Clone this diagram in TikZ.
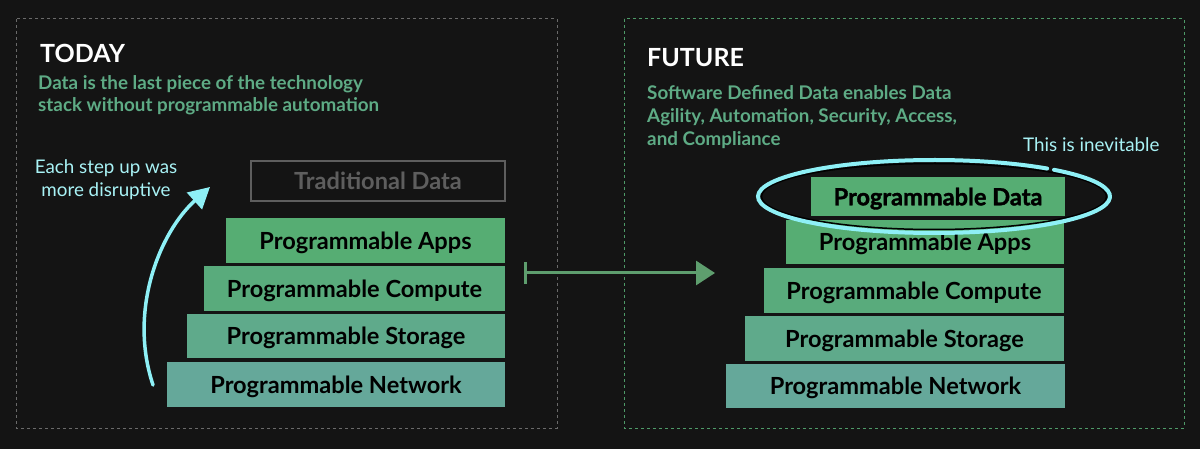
\documentclass[tikz,border=0pt]{standalone}
\usepackage{fontspec}
\setmainfont{Lato}
\newfontfamily\latoheavy{Lato}[BoldFeatures={FakeBold=1.6}]
\usetikzlibrary{arrows.meta}
\definecolor{bgc}{HTML}{141414}
\definecolor{subg}{HTML}{5EAB85}
\definecolor{cyanc}{HTML}{8EF0F6}
\definecolor{cyant}{HTML}{A8F2F5}
\definecolor{grayc}{HTML}{5E5E5E}
\definecolor{dashg}{HTML}{6A6A6A}
\definecolor{dashgr}{HTML}{4E9A68}
\definecolor{arrg}{HTML}{5E9E6E}
\definecolor{capps}{HTML}{56AD73}
\definecolor{ccomp}{HTML}{59AB7C}
\definecolor{cstor}{HTML}{5FAA8B}
\definecolor{cnet}{HTML}{65A89A}
\tikzset{
  stackbox/.style={anchor=north west, inner sep=0pt, outer sep=0pt, text=black, text depth=0pt,
    font=\fontsize{23.6}{26}\selectfont\bfseries},
  titletxt/.style={anchor=base west, inner sep=0pt, text=white, font=\fontsize{25}{28}\selectfont\bfseries},
  subtxt/.style={anchor=base west, inner sep=0pt, text=subg, font=\fontsize{18.8}{20}\selectfont\bfseries},
  notetxt/.style={inner sep=0pt, text=cyant, font=\fontsize{18.8}{20}\selectfont},
  panel/.style={line width=1pt, dash pattern=on 3pt off 3pt},
}
\begin{document}
\begin{tikzpicture}[x=1pt,y=-1pt]
\useasboundingbox[fill=bgc] (0,0) rectangle (1200,449);
% panels
\draw[panel, draw=dashg] (16,19) rectangle (557,428);
\draw[panel, draw=dashgr] (624,19) rectangle (1184,428);
% titles
\node[titletxt] (today) at (40,63) {TODAY};
\node[subtxt] (s1a) at (38,90) {Data is the last piece of the technology};
\node[subtxt] (s1b) at (38,112) {stack without programmable automation};
\node[titletxt] (future) at (647,67) {FUTURE};
\node[subtxt] (s2a) at (647,100) {Software Defined Data enables Data};
\node[subtxt] (s2b) at (647,123) {Agility, Automation, Security, Access,};
\node[subtxt] (s2c) at (647,145.5) {and Compliance};
% notes
\node[notetxt, anchor=base] (n1) at (106,174) {Each step up was};
\node[notetxt, anchor=base] (n2) at (106,197) {more disruptive};
\node[notetxt, anchor=base west] (n3) at (1023,152) {This is inevitable};
% left stack
\node[stackbox, draw=grayc, line width=1.5pt, text=grayc, minimum width=254pt, minimum height=40pt] (ltrad) at (251,161) {Traditional Data};
\node[stackbox, fill=capps, minimum width=279pt, minimum height=45pt] (lapps) at (226,218) {Programmable Apps};
\node[stackbox, fill=ccomp, minimum width=301pt, minimum height=45pt] (lcomp) at (204,266) {Programmable Compute};
\node[stackbox, fill=cstor, minimum width=318pt, minimum height=44pt] (lstor) at (187,314) {Programmable Storage};
\node[stackbox, fill=cnet, minimum width=338pt, minimum height=45pt] (lnet) at (167,362) {Programmable Network};
% right stack
\node[stackbox, fill=capps, minimum width=254pt, minimum height=39pt, font=\fontsize{23.6}{26}\selectfont\latoheavy\bfseries] (rdata) at (811,177) {Programmable Data};
\node[stackbox, fill=capps, minimum width=278pt, minimum height=44pt] (rapps) at (786,220) {Programmable Apps};
\node[stackbox, fill=ccomp, minimum width=300pt, minimum height=45pt] (rcomp) at (764,268) {Programmable Compute};
\node[stackbox, fill=cstor, minimum width=319pt, minimum height=45pt] (rstor) at (745,316) {Programmable Storage};
\node[stackbox, fill=cnet, minimum width=339pt, minimum height=44pt] (rnet) at (726,364) {Programmable Network};
% curved arrow
\coordinate (cA) at (153,385);
\coordinate (cB) at (210,187);
\draw[cyanc, line width=3.5pt, line cap=round, -{Triangle[length=21pt,width=22pt]}]
  (cA) .. controls (128,310) and (160,232) .. (cB);
% ellipse
\coordinate (ec) at (934,196.5);
\draw[black, line width=1.5pt] (ec) ellipse [x radius=172.5pt, y radius=33pt];
\draw[cyanc, line width=4pt, line cap=round]
  ([shift={(50:176pt and 36.5pt)}]ec) arc [start angle=50, end angle=407, x radius=176pt, y radius=36.5pt];
% horizontal arrow
\coordinate (hA) at (524,273);
\coordinate (hB) at (715,273);
\draw[arrg, line width=3pt, {Bar[width=22pt,line width=3pt]}-{Triangle[length=19pt,width=24pt]}] (hA) -- (hB);
\end{tikzpicture}
\end{document}
